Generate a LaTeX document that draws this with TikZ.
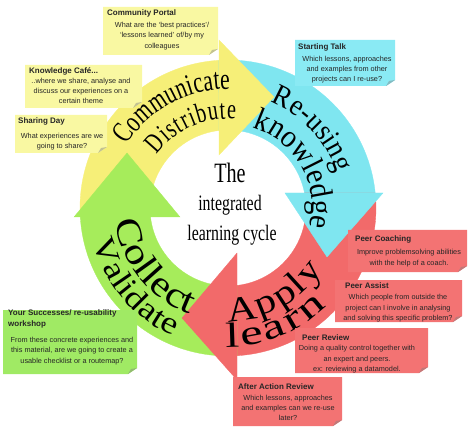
\documentclass[tikz,border=0pt]{standalone}
\usepackage{fontspec}
\setmainfont{Liberation Sans}
\newfontfamily\ringA[FakeStretch=0.72]{Liberation Serif}
\newfontfamily\ringB[FakeStretch=0.9]{Liberation Serif}
\newfontfamily\ringC[FakeStretch=1.2]{Liberation Serif}
\newfontfamily\ringD[FakeStretch=1.45]{Liberation Serif}
\newfontfamily\midfont[FakeStretch=0.72]{Liberation Serif}
\usetikzlibrary{decorations.text,calc}
\definecolor{ylw}{HTML}{F6EF78}
\definecolor{ylwbox}{HTML}{F9F8A2}
\definecolor{cyn}{HTML}{7FE6F0}
\definecolor{cynbox}{HTML}{8AEAF4}
\definecolor{rd}{HTML}{F26A6A}
\definecolor{rdbox}{HTML}{F37373}
\definecolor{grn}{HTML}{A6EC5B}
\definecolor{grnbox}{HTML}{A0EA64}
\newcommand\notebox[5]{%
  \fill[#5] (#1,#2) -- (#3,#2) -- (#3,#4+6) -- (#3-9,#4) -- (#1,#4) -- cycle;
  \fill[#5!55!gray] (#3,#4+6) -- (#3-9,#4) -- (#3-6,#4+5) -- cycle;}
\tikzset{
  ttl/.style={anchor=west,inner sep=0pt,text=black!85,font=\bfseries\fontsize{8}{9}\selectfont},
  bdy/.style={align=center,inner sep=0pt,text=black!85,font=\fontsize{7.3}{10.3}\selectfont},
  ringtext/.style={decorate,decoration={text along path,text align=fit to path,text={#1}}}
}
\begin{document}
\begin{tikzpicture}[x=1pt,y=1pt]
\useasboundingbox (0,0) rectangle (474,429);
\coordinate (C) at (228,221);
% bands
\filldraw[ylw,line width=0.3pt] ($(C)+(183.5:148)$) arc[start angle=183.5,end angle=93.5,radius=148] -- ($(C)+(96.6:78)$) arc[start angle=96.6,end angle=186.6,radius=78] -- cycle;
\filldraw[cyn,line width=0.3pt] ($(C)+(93.5:148)$) arc[start angle=93.5,end angle=5.8,radius=148] -- ($(C)+(11.1:78)$) arc[start angle=11.1,end angle=96.6,radius=78] -- cycle;
\filldraw[rd,line width=0.3pt] ($(C)+(5.8:148)$) arc[start angle=5.8,end angle=-86.5,radius=148] -- ($(C)+(-83.4:78)$) arc[start angle=-83.4,end angle=11.1,radius=78] -- cycle;
\filldraw[grn,line width=0.3pt] ($(C)+(-86.5:148)$) arc[start angle=-86.5,end angle=-176.5,radius=148] -- ($(C)+(-173.4:78)$) arc[start angle=-173.4,end angle=-83.4,radius=78] -- cycle;
% heads
\filldraw[ylw,line width=0.3pt] (219,389) -- (274,332) -- (219,274) -- cycle;
\filldraw[cyn,line width=0.3pt] (383,236) -- (327,172) -- (285,236) -- cycle;
\filldraw[rd,line width=0.3pt] (237,49) -- (182,111) -- (237,176) -- cycle;
\filldraw[grn,line width=0.3pt] (74,212) -- (127,276) -- (180,212) -- cycle;
% ring texts
\path[ringtext={|\ringA\fontsize{30}{30}\selectfont|Communicate}] ($(C)+(148:119)$) arc[start angle=148,end angle=89,radius=119];
\path[ringtext={|\ringA\fontsize{28}{28}\selectfont|Distribute}] ($(C)+(143:89)$) arc[start angle=143,end angle=85,radius=89];
\path[ringtext={|\ringB\fontsize{30}{30}\selectfont|Re-using}] ($(C)+(68:114)$) arc[start angle=68,end angle=18,radius=114];
\path[ringtext={|\ringB\fontsize{32}{32}\selectfont|knowledge}] ($(C)+(73:84)$) arc[start angle=73,end angle=-10,radius=84];
\path[ringtext={|\ringC\fontsize{36}{36}\selectfont|Collect}] ($(C)+(187:113)$) arc[start angle=187,end angle=250,radius=113];
\path[ringtext={|\ringC\fontsize{31}{31}\selectfont|Validate}] ($(C)+(194:139)$) arc[start angle=194,end angle=247,radius=139];
\path[ringtext={|\ringC\fontsize{35}{35}\selectfont|Apply}] ($(C)+(-90:113)$) arc[start angle=-90,end angle=-33,radius=113];
\path[ringtext={|\ringD\fontsize{35}{35}\selectfont|learn}] ($(C)+(-91:139)$) arc[start angle=-91,end angle=-45,radius=139];
% centre
\node[inner sep=0pt,font=\midfont\fontsize{28}{28}\selectfont] (the) at (230,256) {The};
\node[inner sep=0pt,font=\midfont\fontsize{22}{22}\selectfont] (integ) at (230,224) {integrated};
\node[inner sep=0pt,font=\midfont\fontsize{22}{22}\selectfont] (lcyc) at (232,194) {learning cycle};
% callouts
\notebox{103}{422}{218}{374}{ylwbox}
\node[ttl] (cpT) at (107,416) {Community Portal};
\node[bdy] (cpB) at (162,393) {What are the `best practices'/\\`lessons learned' of/by my\\colleagues};
\notebox{25}{364}{142}{321}{ylwbox}
\node[ttl] (kcT) at (29,358) {Knowledge Café...};
\node[bdy] (kcB) at (81,338) {..where we share, analyse and\\discuss our experiences on a\\certain theme};
\notebox{15}{314}{107}{276}{ylwbox}
\node[ttl] (sdT) at (18,308) {Sharing Day};
\node[bdy] (sdB) at (62,287.5) {What experiences are we\\going to share?};
\notebox{295}{389}{395}{343}{cynbox}
\node[ttl] (stT) at (298,382) {Starting Talk};
\node[bdy] (stB) at (347,359.3) {Which lessons, approaches\\and examples from other\\projects can I re-use?};
\notebox{348}{199}{467}{157}{rdbox}
\node[ttl] (pcT) at (355,190) {Peer Coaching};
\node[bdy] (pcB) at (409,171) {Improve problemsolving abilities\\with the help of a coach.};
\notebox{335}{149}{462}{107}{rdbox}
\node[ttl] (paT) at (345,143) {Peer Assist};
\node[bdy] (paB) at (398,120.7) {Which people from outside the\\project can I involve in analysing\\and solving this specific problem?};
\notebox{295}{101}{428}{56}{rdbox}
\node[ttl] (prT) at (302,91) {Peer Review};
\node[bdy] (prB) at (357,69.7) {Doing a quality control together with\\an expert and peers.\\ex: reviewing a datamodel.};
\notebox{233}{52}{342}{3}{rdbox}
\node[ttl] (aaT) at (238,42) {After Action Review};
\node[bdy] (aaB) at (288,21) {Which lessons, approaches\\and examples can we re-use\\later?};
\notebox{3}{119}{137}{55}{grnbox}
\node[ttl,align=left,anchor=north west,font=\bfseries\fontsize{8}{11}\selectfont] (ysT) at (8,119) {Your Successes/ re-usability\\workshop};
\node[bdy] (ysB) at (72,78) {From these concrete experiences and\\this material, are we going to create a\\usable checklist or a routemap?};
\end{tikzpicture}
\end{document}
